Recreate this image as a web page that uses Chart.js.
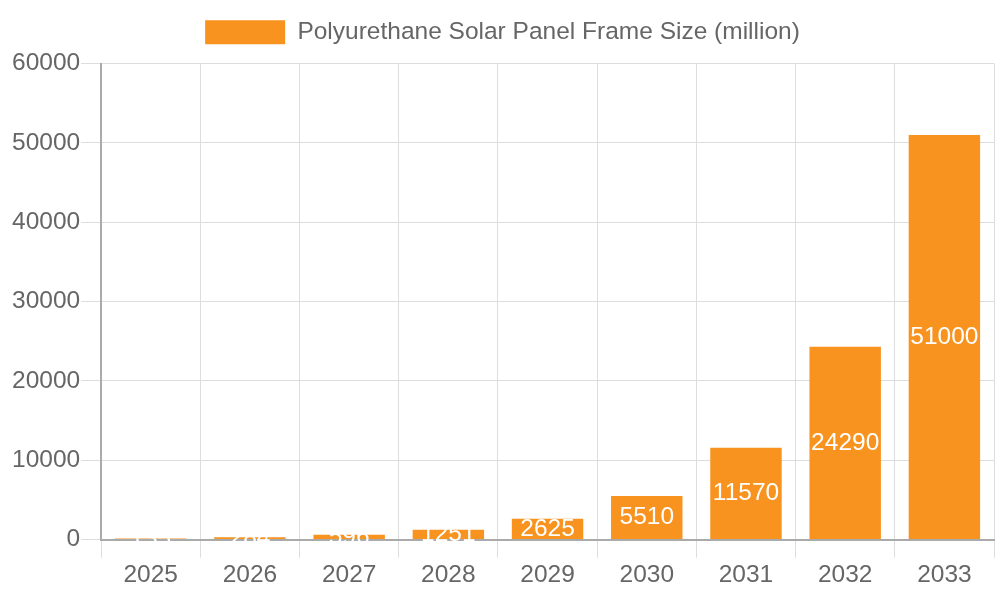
<!DOCTYPE html>
<html>
<head>
<meta charset="utf-8">
<script src="https://cdn.jsdelivr.net/npm/chart.js@4"></script>
<style>
  html, body { margin: 0; padding: 0; background: #fff; }
  #wrap { width: 1000px; height: 600px; }
</style>
</head>
<body>
<div id="wrap"><canvas id="chart" width="1000" height="600"></canvas></div>
<script>
const years = ['2025', '2026', '2027', '2028', '2029', '2030', '2031', '2032', '2033'];
const frameSize = [135, 284, 596, 1251, 2625, 5510, 11570, 24290, 51000];

const FONT_SIZE = 24.5;

// valores no meio de cada barra
const barLabels = {
    id: 'barLabels',
    afterDatasetsDraw(chart) {
        const ctx = chart.ctx;
        const meta = chart.getDatasetMeta(0);
        ctx.save();
        ctx.fillStyle = '#fff';
        ctx.font = FONT_SIZE + 'px "Liberation Sans", Arial, sans-serif';
        ctx.textAlign = 'center';
        ctx.textBaseline = 'middle';
        meta.data.forEach((bar, i) => {
            const y = (bar.y + bar.base) / 2;
            ctx.fillText(String(frameSize[i]), bar.x, y);
        });
        ctx.restore();
    }
};

// mais espaço abaixo da legenda
const legendGap = {
    id: 'legendGap',
    beforeInit(chart) {
        const fit = chart.legend.fit;
        chart.legend.fit = function () {
            fit.bind(chart.legend)();
            this.height += 9;
        };
    }
};

Chart.defaults.font.family = '"Liberation Sans", Arial, sans-serif';
Chart.defaults.font.size = FONT_SIZE;
Chart.defaults.color = '#666';

new Chart(document.getElementById('chart'), {
    type: 'bar',
    data: {
        labels: years,
        datasets: [{
            label: 'Polyurethane Solar Panel Frame Size (million)',
            data: frameSize,
            backgroundColor: '#F7931E',
            borderWidth: 0
        }]
    },
    options: {
        responsive: false,
        animation: false,
        layout: { padding: { top: 10, left: 11, right: 6, bottom: 7 } },
        plugins: {
            legend: {
                labels: { boxWidth: 80, boxHeight: 24 }
            },
            tooltip: { enabled: false }
        },
        scales: {
            x: {
                grid: { color: '#ddd', tickLength: 18 },
                border: { color: '#aaa', width: 2 }
            },
            y: {
                min: 0,
                max: 60000,
                ticks: {
                    stepSize: 10000,
                    padding: 1,
                    callback: v => String(v)
                },
                grid: { color: '#ddd', tickLength: 20 },
                border: { color: '#aaa', width: 2 }
            }
        }
    },
    plugins: [barLabels, legendGap]
});
</script>
</body>
</html>
